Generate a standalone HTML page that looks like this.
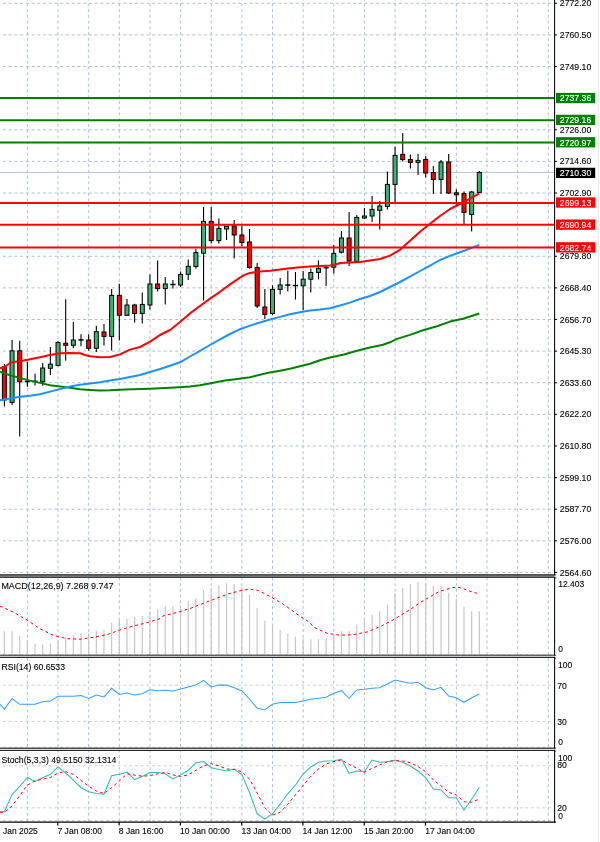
<!DOCTYPE html>
<html lang="en"><head><meta charset="utf-8"><title>Chart</title>
<style>html,body{margin:0;padding:0;background:#fff}body{width:600px;height:842px;overflow:hidden}svg{display:block;filter:blur(.3px)}text{font-family:"Liberation Sans",sans-serif;font-size:9.5px;fill:#000;stroke:#000;stroke-width:.12px}text.w{fill:#fff;stroke:#fff}</style>
</head><body>
<svg width="600" height="842" viewBox="0 0 600 842">
<rect width="600" height="842" fill="#fff"/>
<g stroke="#a9bddb" stroke-width="1" stroke-dasharray="2.87 2.87" fill="none">
<line x1="27.40" y1="-2.3" x2="27.40" y2="822"/>
<line x1="58.04" y1="-2.3" x2="58.04" y2="822"/>
<line x1="88.68" y1="-2.3" x2="88.68" y2="822"/>
<line x1="119.32" y1="-2.3" x2="119.32" y2="822"/>
<line x1="149.96" y1="-2.3" x2="149.96" y2="822"/>
<line x1="180.60" y1="-2.3" x2="180.60" y2="822"/>
<line x1="211.24" y1="-2.3" x2="211.24" y2="822"/>
<line x1="241.88" y1="-2.3" x2="241.88" y2="822"/>
<line x1="272.52" y1="-2.3" x2="272.52" y2="822"/>
<line x1="303.16" y1="-2.3" x2="303.16" y2="822"/>
<line x1="333.80" y1="-2.3" x2="333.80" y2="822"/>
<line x1="364.44" y1="-2.3" x2="364.44" y2="822"/>
<line x1="395.08" y1="-2.3" x2="395.08" y2="822"/>
<line x1="425.72" y1="-2.3" x2="425.72" y2="822"/>
<line x1="456.36" y1="-2.3" x2="456.36" y2="822"/>
<line x1="487.00" y1="-2.3" x2="487.00" y2="822"/>
<line x1="517.64" y1="-2.3" x2="517.64" y2="822"/>
<line x1="548.28" y1="-2.3" x2="548.28" y2="822"/>
<line x1="-2.8" y1="3.30" x2="554.5" y2="3.30"/>
<line x1="-2.8" y1="34.92" x2="554.5" y2="34.92"/>
<line x1="-2.8" y1="66.54" x2="554.5" y2="66.54"/>
<line x1="-2.8" y1="98.16" x2="554.5" y2="98.16"/>
<line x1="-2.8" y1="129.78" x2="554.5" y2="129.78"/>
<line x1="-2.8" y1="161.40" x2="554.5" y2="161.40"/>
<line x1="-2.8" y1="193.02" x2="554.5" y2="193.02"/>
<line x1="-2.8" y1="224.64" x2="554.5" y2="224.64"/>
<line x1="-2.8" y1="256.26" x2="554.5" y2="256.26"/>
<line x1="-2.8" y1="287.88" x2="554.5" y2="287.88"/>
<line x1="-2.8" y1="319.50" x2="554.5" y2="319.50"/>
<line x1="-2.8" y1="351.12" x2="554.5" y2="351.12"/>
<line x1="-2.8" y1="382.74" x2="554.5" y2="382.74"/>
<line x1="-2.8" y1="414.36" x2="554.5" y2="414.36"/>
<line x1="-2.8" y1="445.98" x2="554.5" y2="445.98"/>
<line x1="-2.8" y1="477.60" x2="554.5" y2="477.60"/>
<line x1="-2.8" y1="509.22" x2="554.5" y2="509.22"/>
<line x1="-2.8" y1="540.84" x2="554.5" y2="540.84"/>
<line x1="-2.8" y1="572.46" x2="554.5" y2="572.46"/>
<line x1="-2.8" y1="654.7" x2="554.5" y2="654.7"/>
<line x1="-2.8" y1="747.4" x2="554.5" y2="747.4"/>
<line x1="-2.8" y1="820.8" x2="554.5" y2="820.8"/>
</g>
<g stroke="#cccccc" stroke-width="1" stroke-dasharray="2.87 2.87" fill="none">
<line x1="-2.8" y1="685.2" x2="553.5" y2="685.2"/>
<line x1="-2.8" y1="721.4" x2="553.5" y2="721.4"/>
<line x1="-2.8" y1="765.8" x2="553.5" y2="765.8"/>
<line x1="-2.8" y1="807.8" x2="553.5" y2="807.8"/>
</g>
<line x1="0" y1="172.5" x2="554.5" y2="172.5" stroke="#b4c6e0" stroke-width="1"/>
<g stroke="#c6c6c6" stroke-width="1.2">
<line x1="4.40" y1="631.2" x2="4.40" y2="654.8"/>
<line x1="12.06" y1="631.2" x2="12.06" y2="654.8"/>
<line x1="19.72" y1="636.0" x2="19.72" y2="654.8"/>
<line x1="27.38" y1="640.0" x2="27.38" y2="654.8"/>
<line x1="35.04" y1="643.5" x2="35.04" y2="654.8"/>
<line x1="42.70" y1="644.5" x2="42.70" y2="654.8"/>
<line x1="50.36" y1="643.5" x2="50.36" y2="654.8"/>
<line x1="58.02" y1="640.0" x2="58.02" y2="654.8"/>
<line x1="65.68" y1="637.3" x2="65.68" y2="654.8"/>
<line x1="73.34" y1="635.5" x2="73.34" y2="654.8"/>
<line x1="81.00" y1="633.3" x2="81.00" y2="654.8"/>
<line x1="88.66" y1="632.8" x2="88.66" y2="654.8"/>
<line x1="96.32" y1="630.7" x2="96.32" y2="654.8"/>
<line x1="103.98" y1="630.1" x2="103.98" y2="654.8"/>
<line x1="111.64" y1="622.7" x2="111.64" y2="654.8"/>
<line x1="119.30" y1="620.0" x2="119.30" y2="654.8"/>
<line x1="126.96" y1="618.7" x2="126.96" y2="654.8"/>
<line x1="134.62" y1="617.3" x2="134.62" y2="654.8"/>
<line x1="142.28" y1="616.0" x2="142.28" y2="654.8"/>
<line x1="149.94" y1="611.5" x2="149.94" y2="654.8"/>
<line x1="157.60" y1="609.3" x2="157.60" y2="654.8"/>
<line x1="165.26" y1="606.1" x2="165.26" y2="654.8"/>
<line x1="172.92" y1="606.1" x2="172.92" y2="654.8"/>
<line x1="180.58" y1="605.3" x2="180.58" y2="654.8"/>
<line x1="188.24" y1="601.3" x2="188.24" y2="654.8"/>
<line x1="195.90" y1="597.9" x2="195.90" y2="654.8"/>
<line x1="203.56" y1="590.1" x2="203.56" y2="654.8"/>
<line x1="211.22" y1="588.0" x2="211.22" y2="654.8"/>
<line x1="218.88" y1="585.3" x2="218.88" y2="654.8"/>
<line x1="226.54" y1="583.2" x2="226.54" y2="654.8"/>
<line x1="234.20" y1="584.0" x2="234.20" y2="654.8"/>
<line x1="241.86" y1="587.5" x2="241.86" y2="654.8"/>
<line x1="249.52" y1="594.7" x2="249.52" y2="654.8"/>
<line x1="257.18" y1="608.0" x2="257.18" y2="654.8"/>
<line x1="264.84" y1="620.8" x2="264.84" y2="654.8"/>
<line x1="272.50" y1="624.0" x2="272.50" y2="654.8"/>
<line x1="280.16" y1="630.1" x2="280.16" y2="654.8"/>
<line x1="287.82" y1="633.9" x2="287.82" y2="654.8"/>
<line x1="295.48" y1="636.8" x2="295.48" y2="654.8"/>
<line x1="303.14" y1="638.7" x2="303.14" y2="654.8"/>
<line x1="310.80" y1="639.2" x2="310.80" y2="654.8"/>
<line x1="318.46" y1="639.2" x2="318.46" y2="654.8"/>
<line x1="326.12" y1="637.9" x2="326.12" y2="654.8"/>
<line x1="333.78" y1="634.7" x2="333.78" y2="654.8"/>
<line x1="341.44" y1="631.2" x2="341.44" y2="654.8"/>
<line x1="349.10" y1="631.2" x2="349.10" y2="654.8"/>
<line x1="356.76" y1="624.5" x2="356.76" y2="654.8"/>
<line x1="364.42" y1="617.9" x2="364.42" y2="654.8"/>
<line x1="372.08" y1="614.7" x2="372.08" y2="654.8"/>
<line x1="379.74" y1="611.2" x2="379.74" y2="654.8"/>
<line x1="387.40" y1="604.5" x2="387.40" y2="654.8"/>
<line x1="395.06" y1="593.3" x2="395.06" y2="654.8"/>
<line x1="402.72" y1="588.0" x2="402.72" y2="654.8"/>
<line x1="410.38" y1="584.0" x2="410.38" y2="654.8"/>
<line x1="418.04" y1="582.1" x2="418.04" y2="654.8"/>
<line x1="425.70" y1="583.2" x2="425.70" y2="654.8"/>
<line x1="433.36" y1="585.9" x2="433.36" y2="654.8"/>
<line x1="441.02" y1="585.9" x2="441.02" y2="654.8"/>
<line x1="448.68" y1="592.8" x2="448.68" y2="654.8"/>
<line x1="456.34" y1="598.7" x2="456.34" y2="654.8"/>
<line x1="464.00" y1="606.7" x2="464.00" y2="654.8"/>
<line x1="471.66" y1="611.2" x2="471.66" y2="654.8"/>
<line x1="479.32" y1="611.2" x2="479.32" y2="654.8"/>
</g>
<g stroke="#000" stroke-width="1">
<line x1="4.40" y1="364.0" x2="4.40" y2="406.4" stroke-width="1.1"/>
<rect x="2.40" y="366.7" width="4.0" height="33.3" fill="#ff0000"/>
<line x1="12.06" y1="340.0" x2="12.06" y2="405.0" stroke-width="1.1"/>
<rect x="10.06" y="350.8" width="4.0" height="51.6" fill="#3cb371"/>
<line x1="19.72" y1="340.8" x2="19.72" y2="436.4" stroke-width="1.1"/>
<rect x="17.72" y="350.8" width="4.0" height="30.9" fill="#ff0000"/>
<line x1="27.38" y1="362.0" x2="27.38" y2="386.7" stroke-width="1.1"/>
<line x1="24.78" y1="381.5" x2="29.98" y2="381.5" stroke-width="1.5"/>
<line x1="35.04" y1="373.7" x2="35.04" y2="385.6" stroke-width="1.1"/>
<line x1="32.44" y1="381.4" x2="37.64" y2="381.4" stroke-width="1.5"/>
<line x1="42.70" y1="363.0" x2="42.70" y2="385.8" stroke-width="1.1"/>
<rect x="40.70" y="368.0" width="4.0" height="13.7" fill="#3cb371"/>
<line x1="50.36" y1="347.0" x2="50.36" y2="375.0" stroke-width="1.1"/>
<rect x="48.36" y="364.2" width="4.0" height="4.1" fill="#3cb371"/>
<line x1="58.02" y1="341.0" x2="58.02" y2="366.3" stroke-width="1.1"/>
<rect x="56.02" y="342.5" width="4.0" height="23.0" fill="#3cb371"/>
<line x1="65.68" y1="299.2" x2="65.68" y2="360.8" stroke-width="1.1"/>
<rect x="63.68" y="343.3" width="4.0" height="2.0" fill="#ff0000"/>
<line x1="73.34" y1="322.0" x2="73.34" y2="348.3" stroke-width="1.1"/>
<rect x="71.34" y="340.0" width="4.0" height="5.3" fill="#3cb371"/>
<line x1="81.00" y1="334.2" x2="81.00" y2="346.3" stroke-width="1.1"/>
<line x1="78.40" y1="339.9" x2="83.60" y2="339.9" stroke-width="1.5"/>
<line x1="88.66" y1="334.2" x2="88.66" y2="350.8" stroke-width="1.1"/>
<rect x="86.66" y="340.0" width="4.0" height="8.3" fill="#ff0000"/>
<line x1="96.32" y1="325.8" x2="96.32" y2="352.0" stroke-width="1.1"/>
<rect x="94.32" y="331.7" width="4.0" height="16.6" fill="#3cb371"/>
<line x1="103.98" y1="324.0" x2="103.98" y2="345.4" stroke-width="1.1"/>
<rect x="101.98" y="332.0" width="4.0" height="4.4" fill="#ff0000"/>
<line x1="111.64" y1="289.1" x2="111.64" y2="350.4" stroke-width="1.1"/>
<rect x="109.64" y="295.4" width="4.0" height="41.0" fill="#3cb371"/>
<line x1="119.30" y1="283.7" x2="119.30" y2="340.6" stroke-width="1.1"/>
<rect x="117.30" y="295.4" width="4.0" height="19.9" fill="#ff0000"/>
<line x1="126.96" y1="299.1" x2="126.96" y2="316.0" stroke-width="1.1"/>
<rect x="124.96" y="305.0" width="4.0" height="10.3" fill="#3cb371"/>
<line x1="134.62" y1="303.7" x2="134.62" y2="322.4" stroke-width="1.1"/>
<rect x="132.62" y="305.0" width="4.0" height="8.5" fill="#ff0000"/>
<line x1="142.28" y1="292.4" x2="142.28" y2="323.4" stroke-width="1.1"/>
<rect x="140.28" y="304.4" width="4.0" height="9.0" fill="#3cb371"/>
<line x1="149.94" y1="274.4" x2="149.94" y2="309.6" stroke-width="1.1"/>
<rect x="147.94" y="284.0" width="4.0" height="21.0" fill="#3cb371"/>
<line x1="157.60" y1="260.6" x2="157.60" y2="291.6" stroke-width="1.1"/>
<rect x="155.60" y="284.0" width="4.0" height="4.6" fill="#ff0000"/>
<line x1="165.26" y1="277.0" x2="165.26" y2="304.4" stroke-width="1.1"/>
<rect x="163.26" y="284.0" width="4.0" height="4.6" fill="#3cb371"/>
<line x1="172.92" y1="280.0" x2="172.92" y2="288.6" stroke-width="1.1"/>
<line x1="170.32" y1="284.5" x2="175.52" y2="284.5" stroke-width="1.5"/>
<line x1="180.58" y1="271.4" x2="180.58" y2="287.0" stroke-width="1.1"/>
<rect x="178.58" y="274.4" width="4.0" height="10.6" fill="#3cb371"/>
<line x1="188.24" y1="259.6" x2="188.24" y2="280.0" stroke-width="1.1"/>
<rect x="186.24" y="266.4" width="4.0" height="8.0" fill="#3cb371"/>
<line x1="195.90" y1="249.0" x2="195.90" y2="268.8" stroke-width="1.1"/>
<rect x="193.90" y="252.6" width="4.0" height="13.9" fill="#3cb371"/>
<line x1="203.56" y1="207.0" x2="203.56" y2="300.6" stroke-width="1.1"/>
<rect x="201.56" y="221.4" width="4.0" height="31.8" fill="#3cb371"/>
<line x1="211.22" y1="207.0" x2="211.22" y2="243.6" stroke-width="1.1"/>
<rect x="209.22" y="221.4" width="4.0" height="19.2" fill="#ff0000"/>
<line x1="218.88" y1="218.4" x2="218.88" y2="243.6" stroke-width="1.1"/>
<rect x="216.88" y="228.4" width="4.0" height="12.2" fill="#3cb371"/>
<line x1="226.54" y1="226.0" x2="226.54" y2="240.0" stroke-width="1.1"/>
<rect x="224.54" y="226.4" width="4.0" height="2.6" fill="#3cb371"/>
<line x1="234.20" y1="220.0" x2="234.20" y2="258.6" stroke-width="1.1"/>
<rect x="232.20" y="226.0" width="4.0" height="9.0" fill="#ff0000"/>
<line x1="241.86" y1="226.0" x2="241.86" y2="246.0" stroke-width="1.1"/>
<rect x="239.86" y="235.0" width="4.0" height="7.6" fill="#ff0000"/>
<line x1="249.52" y1="229.0" x2="249.52" y2="268.6" stroke-width="1.1"/>
<rect x="247.52" y="242.0" width="4.0" height="25.4" fill="#ff0000"/>
<line x1="257.18" y1="263.0" x2="257.18" y2="308.0" stroke-width="1.1"/>
<rect x="255.18" y="267.4" width="4.0" height="38.6" fill="#ff0000"/>
<line x1="264.84" y1="289.0" x2="264.84" y2="319.0" stroke-width="1.1"/>
<rect x="262.84" y="307.0" width="4.0" height="7.4" fill="#ff0000"/>
<line x1="272.50" y1="285.3" x2="272.50" y2="315.0" stroke-width="1.1"/>
<rect x="270.50" y="289.4" width="4.0" height="24.0" fill="#3cb371"/>
<line x1="280.16" y1="278.0" x2="280.16" y2="294.5" stroke-width="1.1"/>
<rect x="278.16" y="285.0" width="4.0" height="4.4" fill="#3cb371"/>
<line x1="287.82" y1="270.8" x2="287.82" y2="291.5" stroke-width="1.1"/>
<line x1="285.22" y1="285.1" x2="290.42" y2="285.1" stroke-width="1.5"/>
<line x1="295.48" y1="272.0" x2="295.48" y2="299.5" stroke-width="1.1"/>
<line x1="292.88" y1="285.6" x2="298.08" y2="285.6" stroke-width="1.5"/>
<line x1="303.14" y1="271.0" x2="303.14" y2="310.3" stroke-width="1.1"/>
<rect x="301.14" y="279.2" width="4.0" height="6.6" fill="#3cb371"/>
<line x1="310.80" y1="268.4" x2="310.80" y2="292.4" stroke-width="1.1"/>
<rect x="308.80" y="272.5" width="4.0" height="6.7" fill="#3cb371"/>
<line x1="318.46" y1="260.4" x2="318.46" y2="279.4" stroke-width="1.1"/>
<rect x="316.46" y="268.4" width="4.0" height="4.0" fill="#3cb371"/>
<line x1="326.12" y1="266.0" x2="326.12" y2="286.0" stroke-width="1.1"/>
<line x1="323.52" y1="267.7" x2="328.72" y2="267.7" stroke-width="1.5"/>
<line x1="333.78" y1="245.0" x2="333.78" y2="273.4" stroke-width="1.1"/>
<rect x="331.78" y="253.4" width="4.0" height="13.8" fill="#3cb371"/>
<line x1="341.44" y1="231.0" x2="341.44" y2="253.4" stroke-width="1.1"/>
<rect x="339.44" y="238.0" width="4.0" height="14.2" fill="#3cb371"/>
<line x1="349.10" y1="212.0" x2="349.10" y2="266.0" stroke-width="1.1"/>
<rect x="347.10" y="238.0" width="4.0" height="23.0" fill="#ff0000"/>
<line x1="356.76" y1="215.0" x2="356.76" y2="262.4" stroke-width="1.1"/>
<rect x="354.76" y="217.4" width="4.0" height="44.0" fill="#3cb371"/>
<line x1="364.42" y1="208.0" x2="364.42" y2="219.0" stroke-width="1.1"/>
<rect x="362.42" y="216.0" width="4.0" height="2.0" fill="#3cb371"/>
<line x1="372.08" y1="196.0" x2="372.08" y2="222.0" stroke-width="1.1"/>
<rect x="370.08" y="209.4" width="4.0" height="6.6" fill="#3cb371"/>
<line x1="379.74" y1="201.0" x2="379.74" y2="229.4" stroke-width="1.1"/>
<rect x="377.74" y="206.0" width="4.0" height="4.4" fill="#3cb371"/>
<line x1="387.40" y1="171.4" x2="387.40" y2="209.4" stroke-width="1.1"/>
<rect x="385.40" y="184.4" width="4.0" height="22.0" fill="#3cb371"/>
<line x1="395.06" y1="146.6" x2="395.06" y2="202.0" stroke-width="1.1"/>
<rect x="393.06" y="155.4" width="4.0" height="29.0" fill="#3cb371"/>
<line x1="402.72" y1="133.0" x2="402.72" y2="161.6" stroke-width="1.1"/>
<rect x="400.72" y="154.4" width="4.0" height="5.2" fill="#ff0000"/>
<line x1="410.38" y1="154.4" x2="410.38" y2="168.4" stroke-width="1.1"/>
<rect x="408.38" y="159.6" width="4.0" height="2.8" fill="#ff0000"/>
<line x1="418.04" y1="154.0" x2="418.04" y2="175.0" stroke-width="1.1"/>
<rect x="416.04" y="160.4" width="4.0" height="2.0" fill="#3cb371"/>
<line x1="425.70" y1="156.0" x2="425.70" y2="177.6" stroke-width="1.1"/>
<rect x="423.70" y="159.4" width="4.0" height="13.6" fill="#ff0000"/>
<line x1="433.36" y1="166.0" x2="433.36" y2="194.0" stroke-width="1.1"/>
<rect x="431.36" y="172.6" width="4.0" height="6.8" fill="#ff0000"/>
<line x1="441.02" y1="160.0" x2="441.02" y2="194.0" stroke-width="1.1"/>
<rect x="439.02" y="162.0" width="4.0" height="17.4" fill="#3cb371"/>
<line x1="448.68" y1="154.0" x2="448.68" y2="194.0" stroke-width="1.1"/>
<rect x="446.68" y="162.0" width="4.0" height="31.0" fill="#ff0000"/>
<line x1="456.34" y1="189.2" x2="456.34" y2="205.0" stroke-width="1.1"/>
<rect x="454.34" y="192.8" width="4.0" height="2.0" fill="#ff0000"/>
<line x1="464.00" y1="191.6" x2="464.00" y2="224.0" stroke-width="1.1"/>
<rect x="462.00" y="193.6" width="4.0" height="18.8" fill="#ff0000"/>
<line x1="471.66" y1="191.0" x2="471.66" y2="231.6" stroke-width="1.1"/>
<rect x="469.66" y="192.0" width="4.0" height="22.4" fill="#3cb371"/>
<line x1="479.32" y1="171.0" x2="479.32" y2="193.0" stroke-width="1.1"/>
<rect x="477.32" y="172.4" width="4.0" height="20.0" fill="#3cb371"/>
</g>
<polyline points="0.0,371.7 10.0,375.2 20.0,377.9 30.0,380.6 40.0,382.9 50.0,385.3 60.0,386.6 70.0,387.8 80.0,389.3 90.0,390.0 100.0,390.5 110.0,390.3 125.0,389.5 150.0,388.7 175.0,387.5 190.0,386.5 200.0,385.3 212.0,382.9 225.0,380.6 237.5,378.9 250.0,377.3 260.0,374.8 270.0,372.4 280.0,370.8 290.0,368.7 300.0,366.2 310.0,363.8 320.0,360.3 330.0,357.5 343.0,354.7 357.0,350.7 370.0,347.5 383.0,344.8 390.0,342.3 397.0,338.9 410.0,334.9 423.0,330.3 437.0,326.2 450.0,321.6 463.0,318.7 479.3,313.5" fill="none" stroke="#008000" stroke-width="2" stroke-linejoin="round"/>
<polyline points="0.0,400.3 10.0,398.4 20.0,396.8 30.0,395.7 40.0,394.3 50.0,391.6 60.0,389.1 70.0,386.6 80.0,384.8 90.0,383.4 100.0,382.3 110.0,380.5 120.0,379.0 130.0,377.0 140.0,375.0 150.0,372.0 160.0,369.0 170.0,365.7 180.0,362.3 190.0,356.5 200.0,350.8 210.0,345.0 220.0,339.3 230.0,334.0 240.0,329.2 250.0,325.6 260.0,322.5 270.0,319.5 280.0,316.9 290.0,314.2 300.0,312.2 310.0,310.6 320.0,309.6 330.0,308.2 340.0,305.5 350.0,302.6 360.0,299.0 370.0,296.0 380.0,292.0 390.0,287.0 400.0,282.0 410.0,276.6 420.0,271.0 430.0,265.6 440.0,260.0 450.0,255.9 460.0,252.2 470.0,248.5 479.3,245.0" fill="none" stroke="#1e90ff" stroke-width="2" stroke-linejoin="round"/>
<polyline points="0.0,368.3 5.0,366.7 10.0,363.0 15.0,361.7 20.0,361.2 30.0,359.2 40.0,357.2 50.0,355.0 60.0,353.3 70.0,353.0 80.0,353.3 85.0,355.0 90.0,356.2 100.0,357.3 110.0,357.0 120.0,354.4 130.0,349.6 140.0,347.0 150.0,341.6 160.0,335.0 170.0,330.0 180.0,322.0 190.0,313.4 200.0,306.0 210.0,298.6 220.0,291.8 230.0,284.4 240.0,277.6 245.0,274.6 250.0,273.0 260.0,271.4 270.0,270.8 280.0,269.5 290.0,268.2 300.0,267.2 310.0,266.5 320.0,266.0 330.0,265.6 336.0,264.4 340.0,263.0 350.0,262.6 360.0,262.0 370.0,260.6 380.0,259.0 390.0,255.6 400.0,249.8 410.0,240.8 420.0,231.8 430.0,223.8 440.0,216.0 450.0,209.0 460.0,204.0 470.0,198.6 479.3,193.3" fill="none" stroke="#ff0000" stroke-width="2" stroke-linejoin="round"/>
<line x1="0" y1="98.1" x2="554.5" y2="98.1" stroke="#008000" stroke-width="2"/>
<line x1="0" y1="120.3" x2="554.5" y2="120.3" stroke="#008000" stroke-width="2"/>
<line x1="0" y1="142.6" x2="554.5" y2="142.6" stroke="#008000" stroke-width="2"/>
<line x1="0" y1="202.9" x2="554.5" y2="202.9" stroke="#ff0000" stroke-width="2"/>
<line x1="0" y1="224.7" x2="554.5" y2="224.7" stroke="#ff0000" stroke-width="2"/>
<line x1="0" y1="247.6" x2="554.5" y2="247.6" stroke="#ff0000" stroke-width="2"/>
<polyline points="0.0,606.0 13.0,612.0 27.0,620.0 40.0,628.8 53.0,635.2 67.0,638.7 80.0,639.2 93.0,637.3 107.0,634.7 120.0,629.9 133.0,626.1 147.0,622.7 160.0,618.7 163.0,616.0 177.0,612.5 190.0,608.5 203.0,603.5 217.0,598.1 230.0,593.3 243.0,590.1 250.0,589.3 257.0,590.1 263.0,592.8 270.0,596.5 283.0,604.0 297.0,614.1 310.0,622.7 313.0,626.7 327.0,633.3 340.0,635.2 353.0,634.7 367.0,632.0 380.0,626.7 393.0,620.0 407.0,611.5 420.0,602.7 433.0,595.0 440.0,591.2 447.0,589.3 453.0,587.5 458.0,587.2 463.0,588.5 470.0,591.2 477.0,593.3" fill="none" stroke="#ff0000" stroke-width="1" stroke-dasharray="2.9 2.9"/>
<polyline points="0.0,704.3 4.4,709.1 12.1,698.5 19.7,704.3 27.4,704.3 35.0,704.3 42.7,701.7 50.4,701.1 58.0,696.3 65.7,696.3 73.3,696.3 81.0,695.5 88.7,698.5 96.3,695.0 104.0,696.9 111.6,688.3 119.3,694.5 127.0,693.1 134.6,695.0 142.3,693.7 149.9,689.7 157.6,690.8 165.3,690.2 172.9,691.0 180.6,688.9 188.2,687.0 195.9,684.9 203.6,680.3 211.2,687.0 218.9,685.1 226.5,685.1 234.2,687.8 241.9,691.0 249.5,699.0 257.2,708.3 264.8,709.7 272.5,704.3 280.2,702.5 287.8,702.5 295.5,702.5 303.1,701.1 310.8,699.2 318.5,698.3 326.1,697.3 333.8,693.3 341.4,690.7 349.1,698.3 356.8,690.0 364.4,689.3 372.1,688.3 379.7,687.7 387.4,684.0 395.1,680.0 402.7,681.7 410.4,683.3 418.0,682.3 425.7,687.7 433.4,690.0 441.0,687.3 448.7,696.0 456.3,697.7 464.0,702.3 471.7,697.7 479.3,694.0" fill="none" stroke="#3b9dff" stroke-width="1.05"/>
<polyline points="0.0,811.7 4.4,811.7 12.1,794.3 19.7,786.3 27.4,777.5 35.0,781.5 42.7,777.8 50.4,774.3 58.0,766.9 65.7,773.0 73.3,780.2 81.0,787.7 88.7,791.7 96.3,793.5 104.0,794.3 111.6,775.7 119.3,774.3 127.0,772.2 134.6,779.7 142.3,776.5 149.9,772.5 157.6,772.5 165.3,773.8 172.9,778.9 180.6,774.9 188.2,770.3 195.9,763.1 203.6,761.5 211.2,767.7 218.9,769.5 226.5,770.9 234.2,769.0 241.9,774.9 249.5,792.5 257.2,813.8 264.8,819.1 272.5,813.8 280.2,804.2 287.8,793.8 295.5,785.0 303.1,774.0 310.8,767.0 318.5,762.3 326.1,761.0 333.8,760.7 341.4,759.3 349.1,773.3 356.8,771.0 364.4,771.7 372.1,760.0 379.7,762.3 387.4,761.7 395.1,760.0 402.7,762.3 410.4,766.0 418.0,771.0 425.7,777.7 433.4,789.0 441.0,790.0 448.7,797.7 456.3,797.7 464.0,810.0 471.7,799.3 479.3,787.3" fill="none" stroke="#35b9b1" stroke-width="1.05"/>
<polyline points="0.0,812.2 4.4,812.5 12.1,805.8 19.7,795.7 27.4,785.0 35.0,781.0 42.7,779.1 50.4,777.5 58.0,773.0 65.7,771.7 73.3,774.3 81.0,780.5 88.7,786.3 96.3,790.9 104.0,793.5 111.6,787.7 119.3,781.0 127.0,773.8 134.6,775.1 142.3,776.2 149.9,775.7 157.6,773.8 165.3,772.5 172.9,774.9 180.6,776.5 188.2,774.9 195.9,770.3 203.6,765.8 211.2,763.7 218.9,765.8 226.5,769.0 234.2,769.5 241.9,771.7 249.5,779.1 257.2,793.0 264.8,807.7 272.5,815.1 280.2,812.2 287.8,804.2 295.5,794.9 303.1,785.5 310.8,776.2 318.5,769.0 326.1,764.0 333.8,761.7 341.4,760.0 349.1,764.3 356.8,768.3 364.4,772.3 372.1,768.3 379.7,765.0 387.4,761.7 395.1,760.7 402.7,761.0 410.4,762.7 418.0,766.7 425.7,771.7 433.4,780.0 441.0,785.7 448.7,792.3 456.3,795.0 464.0,801.7 471.7,802.3 479.3,799.0" fill="none" stroke="#ff0000" stroke-width="1" stroke-dasharray="2.9 2.9"/>
<rect x="0" y="574.3" width="554.1" height="3.5" fill="#9a9a9a"/>
<rect x="0" y="574.3" width="555.1" height="1.2" fill="#262626"/>
<rect x="0" y="576.7" width="555.1" height="1.1" fill="#262626"/>
<rect x="0" y="654.7" width="554.1" height="3.3" fill="#f2f2f2"/>
<rect x="0" y="654.7" width="555.1" height="1.0" fill="#262626"/>
<rect x="0" y="656.8" width="555.1" height="1.2" fill="#262626"/>
<rect x="0" y="747.6" width="554.1" height="3.4" fill="#f2f2f2"/>
<rect x="0" y="747.6" width="555.1" height="1.2" fill="#262626"/>
<rect x="0" y="749.9" width="555.1" height="1.1" fill="#262626"/>
<line x1="0" y1="822.2" x2="555.9" y2="822.2" stroke="#000" stroke-width="1.3"/>
<line x1="598.5" y1="0" x2="598.5" y2="842" stroke="#ececec" stroke-width="1"/>
<line x1="554.6" y1="0" x2="554.6" y2="822.8" stroke="#000" stroke-width="1.05"/>
<rect x="554.1" y="575.5" width="1.4" height="1.2" fill="#fff"/>
<rect x="555.1" y="574.4" width="0.9" height="0.9" fill="#222"/>
<rect x="555.1" y="577.5" width="0.9" height="0.9" fill="#222"/>
<rect x="554.1" y="655.7" width="1.4" height="1.1" fill="#fff"/>
<rect x="555.1" y="654.8000000000001" width="0.9" height="0.9" fill="#222"/>
<rect x="555.1" y="657.7" width="0.9" height="0.9" fill="#222"/>
<rect x="554.1" y="748.8" width="1.4" height="1.1" fill="#fff"/>
<rect x="555.1" y="747.7" width="0.9" height="0.9" fill="#222"/>
<rect x="555.1" y="750.7" width="0.9" height="0.9" fill="#222"/>
<g stroke="#000" stroke-width="1">
<line x1="554.5" y1="3.30" x2="557.1" y2="3.30"/>
<line x1="554.5" y1="34.92" x2="557.1" y2="34.92"/>
<line x1="554.5" y1="66.54" x2="557.1" y2="66.54"/>
<line x1="554.5" y1="129.78" x2="557.1" y2="129.78"/>
<line x1="554.5" y1="161.40" x2="557.1" y2="161.40"/>
<line x1="554.5" y1="193.02" x2="557.1" y2="193.02"/>
<line x1="554.5" y1="256.26" x2="557.1" y2="256.26"/>
<line x1="554.5" y1="287.88" x2="557.1" y2="287.88"/>
<line x1="554.5" y1="319.50" x2="557.1" y2="319.50"/>
<line x1="554.5" y1="351.12" x2="557.1" y2="351.12"/>
<line x1="554.5" y1="382.74" x2="557.1" y2="382.74"/>
<line x1="554.5" y1="414.36" x2="557.1" y2="414.36"/>
<line x1="554.5" y1="445.98" x2="557.1" y2="445.98"/>
<line x1="554.5" y1="477.60" x2="557.1" y2="477.60"/>
<line x1="554.5" y1="509.22" x2="557.1" y2="509.22"/>
<line x1="554.5" y1="540.84" x2="557.1" y2="540.84"/>
<line x1="554.5" y1="572.46" x2="557.1" y2="572.46"/>
</g>
<text x="559.8" y="6.35" textLength="31.5" lengthAdjust="spacingAndGlyphs">2772.20</text>
<text x="559.8" y="37.97" textLength="31.5" lengthAdjust="spacingAndGlyphs">2760.50</text>
<text x="559.8" y="69.59" textLength="31.5" lengthAdjust="spacingAndGlyphs">2749.10</text>
<text x="559.8" y="132.83" textLength="31.5" lengthAdjust="spacingAndGlyphs">2726.00</text>
<text x="559.8" y="164.45" textLength="31.5" lengthAdjust="spacingAndGlyphs">2714.60</text>
<text x="559.8" y="196.07" textLength="31.5" lengthAdjust="spacingAndGlyphs">2702.90</text>
<text x="559.8" y="259.31" textLength="31.5" lengthAdjust="spacingAndGlyphs">2679.80</text>
<text x="559.8" y="290.93" textLength="31.5" lengthAdjust="spacingAndGlyphs">2668.40</text>
<text x="559.8" y="322.55" textLength="31.5" lengthAdjust="spacingAndGlyphs">2656.70</text>
<text x="559.8" y="354.17" textLength="31.5" lengthAdjust="spacingAndGlyphs">2645.30</text>
<text x="559.8" y="385.79" textLength="31.5" lengthAdjust="spacingAndGlyphs">2633.60</text>
<text x="559.8" y="417.41" textLength="31.5" lengthAdjust="spacingAndGlyphs">2622.20</text>
<text x="559.8" y="449.03" textLength="31.5" lengthAdjust="spacingAndGlyphs">2610.80</text>
<text x="559.8" y="480.65" textLength="31.5" lengthAdjust="spacingAndGlyphs">2599.10</text>
<text x="559.8" y="512.27" textLength="31.5" lengthAdjust="spacingAndGlyphs">2587.70</text>
<text x="559.8" y="543.89" textLength="31.5" lengthAdjust="spacingAndGlyphs">2576.00</text>
<text x="559.8" y="575.51" textLength="31.5" lengthAdjust="spacingAndGlyphs">2564.60</text>
<rect x="556" y="92.90" width="39.2" height="10.3" fill="#008000"/>
<text x="559.8" y="101.25" textLength="31.5" lengthAdjust="spacingAndGlyphs" class="w">2737.36</text>
<rect x="556" y="114.75" width="39.2" height="10.3" fill="#008000"/>
<text x="559.8" y="123.10" textLength="31.5" lengthAdjust="spacingAndGlyphs" class="w">2729.16</text>
<rect x="556" y="137.15" width="39.2" height="10.3" fill="#008000"/>
<text x="559.8" y="145.50" textLength="31.5" lengthAdjust="spacingAndGlyphs" class="w">2720.97</text>
<rect x="556" y="167.75" width="39.2" height="10.3" fill="#000000"/>
<text x="559.8" y="176.10" textLength="31.5" lengthAdjust="spacingAndGlyphs" class="w">2710.30</text>
<rect x="556" y="197.35" width="39.2" height="10.3" fill="#ff0000"/>
<text x="559.8" y="205.70" textLength="31.5" lengthAdjust="spacingAndGlyphs" class="w">2699.13</text>
<rect x="556" y="219.50" width="39.2" height="10.3" fill="#ff0000"/>
<text x="559.8" y="227.85" textLength="31.5" lengthAdjust="spacingAndGlyphs" class="w">2690.94</text>
<rect x="556" y="242.20" width="39.2" height="10.3" fill="#ff0000"/>
<text x="559.8" y="250.55" textLength="31.5" lengthAdjust="spacingAndGlyphs" class="w">2682.74</text>
<text x="558.3" y="586.5" textLength="26" lengthAdjust="spacingAndGlyphs">12.403</text>
<text x="558.2" y="651.8" textLength="4.7" lengthAdjust="spacingAndGlyphs">0</text>
<text x="558.1" y="667.6" textLength="14.2" lengthAdjust="spacingAndGlyphs">100</text>
<text x="557.2" y="688.6" textLength="9.6" lengthAdjust="spacingAndGlyphs">70</text>
<text x="557.2" y="725.1" textLength="9.6" lengthAdjust="spacingAndGlyphs">30</text>
<text x="558.2" y="744.7" textLength="4.7" lengthAdjust="spacingAndGlyphs">0</text>
<text x="558.1" y="760.6" textLength="14.2" lengthAdjust="spacingAndGlyphs">100</text>
<text x="557.2" y="768.4" textLength="9.6" lengthAdjust="spacingAndGlyphs">80</text>
<text x="557.2" y="810.9" textLength="9.6" lengthAdjust="spacingAndGlyphs">20</text>
<text x="558.2" y="818.5" textLength="4.7" lengthAdjust="spacingAndGlyphs">0</text>
<text x="1.4" y="588.8" textLength="112" lengthAdjust="spacingAndGlyphs">MACD(12,26,9) 7.268 9.747</text>
<text x="1.5" y="670.1" textLength="63.5" lengthAdjust="spacingAndGlyphs">RSI(14) 60.6533</text>
<text x="1.5" y="762.5" textLength="114.9" lengthAdjust="spacingAndGlyphs">Stoch(5,3,3) 49.5150 32.1314</text>
<g stroke="#000" stroke-width="1">
<line x1="57.8" y1="822" x2="57.8" y2="825.6" stroke-width="1.2"/>
<line x1="119.1" y1="822" x2="119.1" y2="825.6" stroke-width="1.2"/>
<line x1="180.4" y1="822" x2="180.4" y2="825.6" stroke-width="1.2"/>
<line x1="241.7" y1="822" x2="241.7" y2="825.6" stroke-width="1.2"/>
<line x1="302.9" y1="822" x2="302.9" y2="825.6" stroke-width="1.2"/>
<line x1="364.2" y1="822" x2="364.2" y2="825.6" stroke-width="1.2"/>
<line x1="425.5" y1="822" x2="425.5" y2="825.6" stroke-width="1.2"/>
</g>
<text x="3.0" y="834.1" textLength="34.8" lengthAdjust="spacingAndGlyphs">Jan 2025</text>
<text x="57.5" y="834.1" textLength="44.6" lengthAdjust="spacingAndGlyphs">7 Jan 08:00</text>
<text x="118.8" y="834.1" textLength="44.6" lengthAdjust="spacingAndGlyphs">8 Jan 16:00</text>
<text x="180.1" y="834.1" textLength="49.6" lengthAdjust="spacingAndGlyphs">10 Jan 00:00</text>
<text x="241.4" y="834.1" textLength="49.6" lengthAdjust="spacingAndGlyphs">13 Jan 04:00</text>
<text x="302.6" y="834.1" textLength="49.6" lengthAdjust="spacingAndGlyphs">14 Jan 12:00</text>
<text x="363.9" y="834.1" textLength="49.6" lengthAdjust="spacingAndGlyphs">15 Jan 20:00</text>
<text x="425.2" y="834.1" textLength="49.6" lengthAdjust="spacingAndGlyphs">17 Jan 04:00</text>
</svg></body></html>
